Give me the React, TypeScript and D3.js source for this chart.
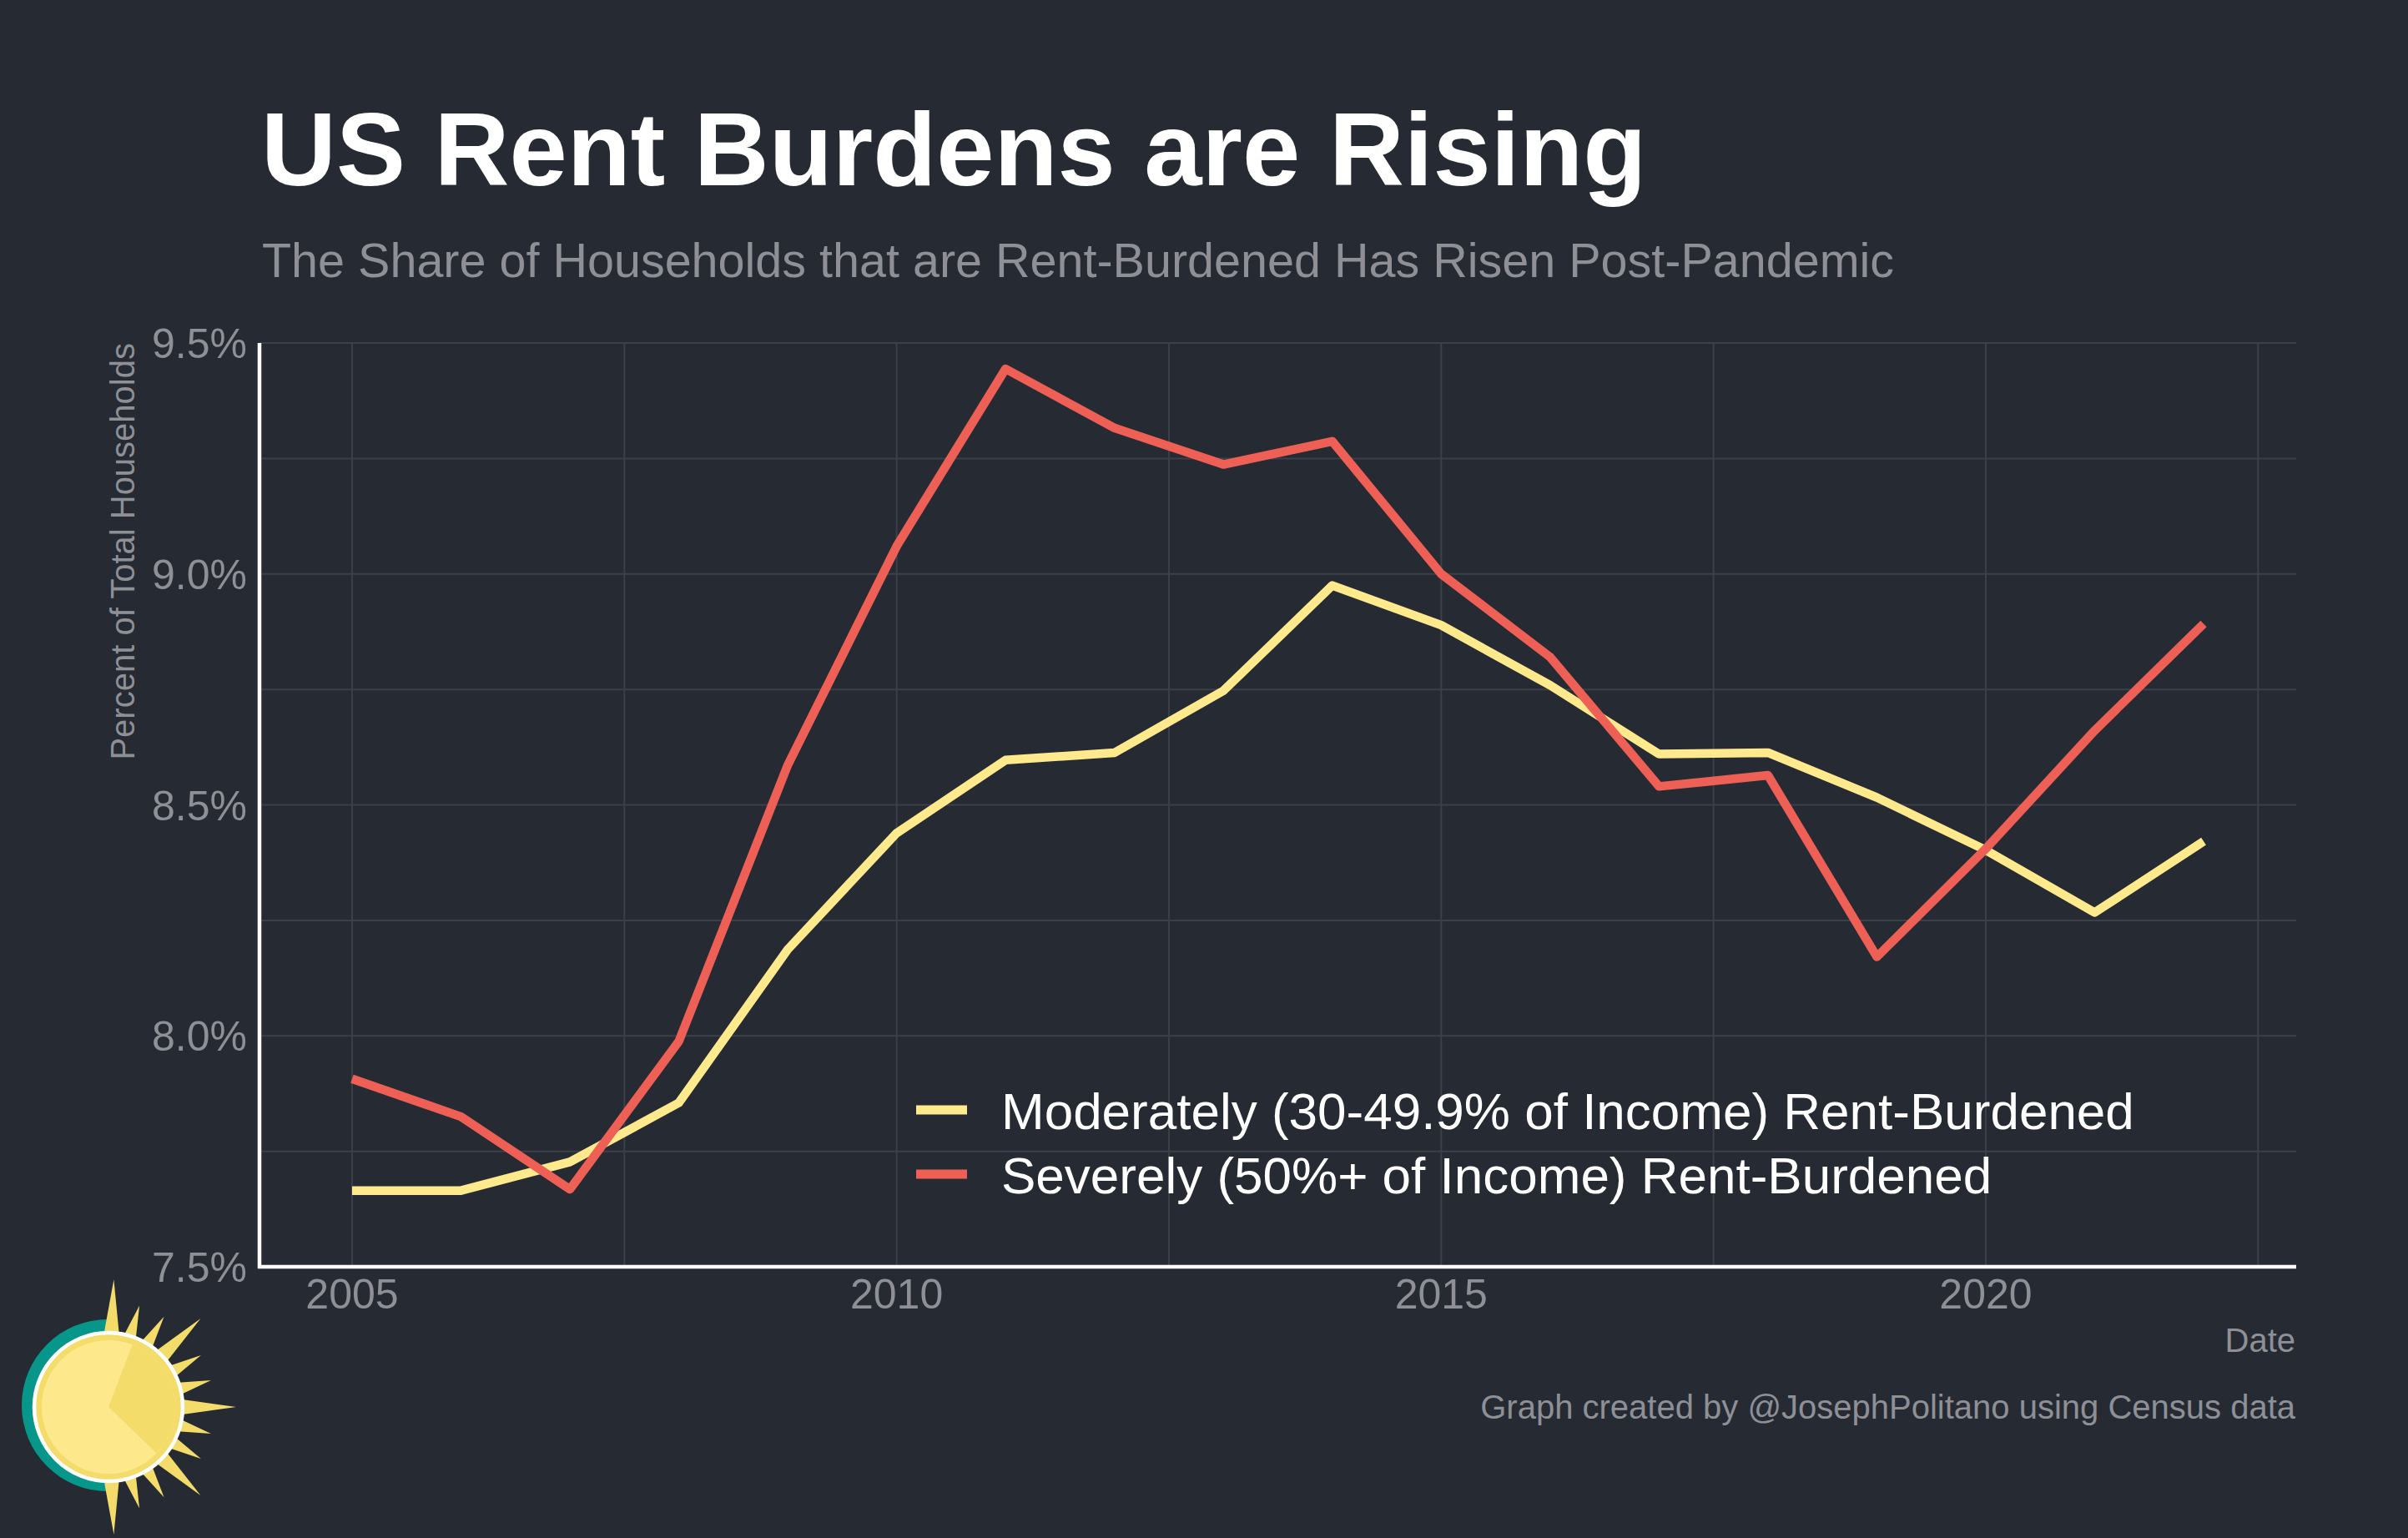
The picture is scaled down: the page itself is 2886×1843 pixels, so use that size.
import * as d3 from 'd3';

// ACS share of renter households by cost burden, percent of total households
const years = [2005, 2006, 2007, 2008, 2009, 2010, 2011, 2012, 2013, 2014, 2015, 2016, 2017, 2018, 2019, 2020, 2021, 2022];
const moderate = [7.665, 7.665, 7.727, 7.855, 8.187, 8.439, 8.597, 8.613, 8.747, 8.975, 8.889, 8.759, 8.61, 8.613, 8.516, 8.402, 8.267, 8.421];
const severe = [7.907, 7.825, 7.668, 7.988, 8.586, 9.06, 9.444, 9.316, 9.237, 9.287, 9.0, 8.82, 8.54, 8.564, 8.171, 8.405, 8.661, 8.892];

const seriesNames = [
  'Moderately (30-49.9% of Income) Rent-Burdened',
  'Severely (50%+ of Income) Rent-Burdened',
];
const seriesColors = ['#FEE98C', '#EE6055'];

const yMajor = [7.5, 8.0, 8.5, 9.0, 9.5];
const yMinor = [7.75, 8.25, 8.75, 9.25];
const xMajor = [2005, 2010, 2015, 2020];
const xMinor = [2007.5, 2012.5, 2017.5, 2022.5];

const W = 2886;
const H = 1843;
const BG = '#252A33';
const GRID = '#3C4049';
const MUTED = '#8E9096';
const FONT = '"Liberation Sans", Arial, Helvetica, sans-serif';

const plot = { left: 311, right: 2752, top: 411, bottom: 1518 };

const SunLogo = () => {
  const cx = 130;
  const cy = 1686;
  const rays = d3.range(-6, 7).map(k => {
    const a = (k * 14.6 * Math.PI) / 180;
    const long = k % 3 === 0;
    const len = long ? 153 : 127;
    const half = ((long ? 7 : 6) * Math.PI) / 180;
    const base = 82;
    const pts: [number, number][] = [
      [cx + base * Math.cos(a - half), cy + base * Math.sin(a - half)],
      [cx + len * Math.cos(a), cy + len * Math.sin(a)],
      [cx + base * Math.cos(a + half), cy + base * Math.sin(a + half)],
    ];
    return 'M' + pts.map(p => p.join(',')).join('L') + 'Z';
  });
  const teal = d3.arc()({
    innerRadius: 0,
    outerRadius: 103,
    startAngle: Math.PI,
    endAngle: 2 * Math.PI,
  }) as string;
  // d3.arc angles start at 12 o'clock, clockwise
  const toArc = (deg: number) => ((deg + 90) * Math.PI) / 180;
  const wedge = d3.arc()({
    innerRadius: 0,
    outerRadius: 80,
    startAngle: toArc(-69),
    endAngle: toArc(44),
  }) as string;
  return (
    <g>
      <path d={teal} transform={`translate(${cx - 1},${cy - 2})`} fill="#07968A" />
      {rays.map((d, i) => (
        <path key={i} d={d} fill="#F4DC6B" />
      ))}
      <circle cx={cx} cy={cy} r={89} fill="#F4DC6B" stroke="#FFFFFF" strokeWidth={4.5} />
      <circle cx={cx} cy={cy} r={80} fill="#FDE98C" />
      <path d={wedge} transform={`translate(${cx},${cy})`} fill="#F4DC6B" />
    </g>
  );
};

const App = () => {
  const x = d3.scaleLinear().domain([2004.15, 2022.85]).range([plot.left, plot.right]);
  const y = d3.scaleLinear().domain([7.5, 9.5]).range([plot.bottom, plot.top]);

  const line = d3
    .line<number>()
    .x((_d, i) => x(years[i]))
    .y(d => y(d));

  const series = [moderate, severe];

  return (
    <svg
      width={W}
      height={H}
      viewBox={`0 0 ${W} ${H}`}
      style={{ position: 'absolute', left: 0, top: 0, display: 'block' }}
      fontFamily={FONT}
    >
      <rect width={W} height={H} fill={BG} />

      <text x={313} y={222} fill="#FFFFFF" fontSize={124.5} fontWeight="bold">
        US Rent Burdens are Rising
      </text>
      <text x={314} y={332} fill={MUTED} fontSize={57.5}>
        The Share of Households that are Rent-Burdened Has Risen Post-Pandemic
      </text>

      {/* grid */}
      {[...yMinor, ...yMajor].map(v => (
        <line key={`gy${v}`} x1={plot.left} x2={plot.right} y1={y(v)} y2={y(v)} stroke={GRID} strokeWidth={2} />
      ))}
      {[...xMinor, ...xMajor].map(v => (
        <line key={`gx${v}`} x1={x(v)} x2={x(v)} y1={plot.top} y2={plot.bottom} stroke={GRID} strokeWidth={2} />
      ))}

      {/* series */}
      {series.map((s, i) => (
        <path
          key={i}
          d={line(s) as string}
          fill="none"
          stroke={seriesColors[i]}
          strokeWidth={10.5}
          strokeLinejoin="round"
          strokeLinecap="butt"
        />
      ))}

      {/* axes */}
      <line x1={plot.left} x2={plot.left} y1={plot.top} y2={plot.bottom + 2} stroke="#FFFFFF" strokeWidth={4.5} />
      <line x1={plot.left - 2} x2={plot.right} y1={plot.bottom} y2={plot.bottom} stroke="#FFFFFF" strokeWidth={4.5} />

      {yMajor.map(v => (
        <text key={`ty${v}`} x={296} y={y(v)} dy="0.36em" textAnchor="end" fill={MUTED} fontSize={50}>
          {d3.format('.1f')(v)}%
        </text>
      ))}
      {xMajor.map(v => (
        <text key={`tx${v}`} x={x(v)} y={1568} textAnchor="middle" fill={MUTED} fontSize={50}>
          {v}
        </text>
      ))}

      <text transform={`translate(161,${plot.top}) rotate(-90)`} textAnchor="end" fill={MUTED} fontSize={40}>
        Percent of Total Households
      </text>
      <text x={2751} y={1620} textAnchor="end" fill={MUTED} fontSize={40}>
        Date
      </text>

      {/* legend */}
      {seriesNames.map((name, i) => (
        <g key={name} transform={`translate(0,${1330 + i * 77})`}>
          <line x1={1098} x2={1159} y1={0} y2={0} stroke={seriesColors[i]} strokeWidth={11} />
          <text x={1200} y={23} fill="#FFFFFF" fontSize={62}>
            {name}
          </text>
        </g>
      ))}

      <text x={2751} y={1700} textAnchor="end" fill={MUTED} fontSize={40}>
        Graph created by @JosephPolitano using Census data
      </text>

      <SunLogo />
    </svg>
  );
};

export default App;
